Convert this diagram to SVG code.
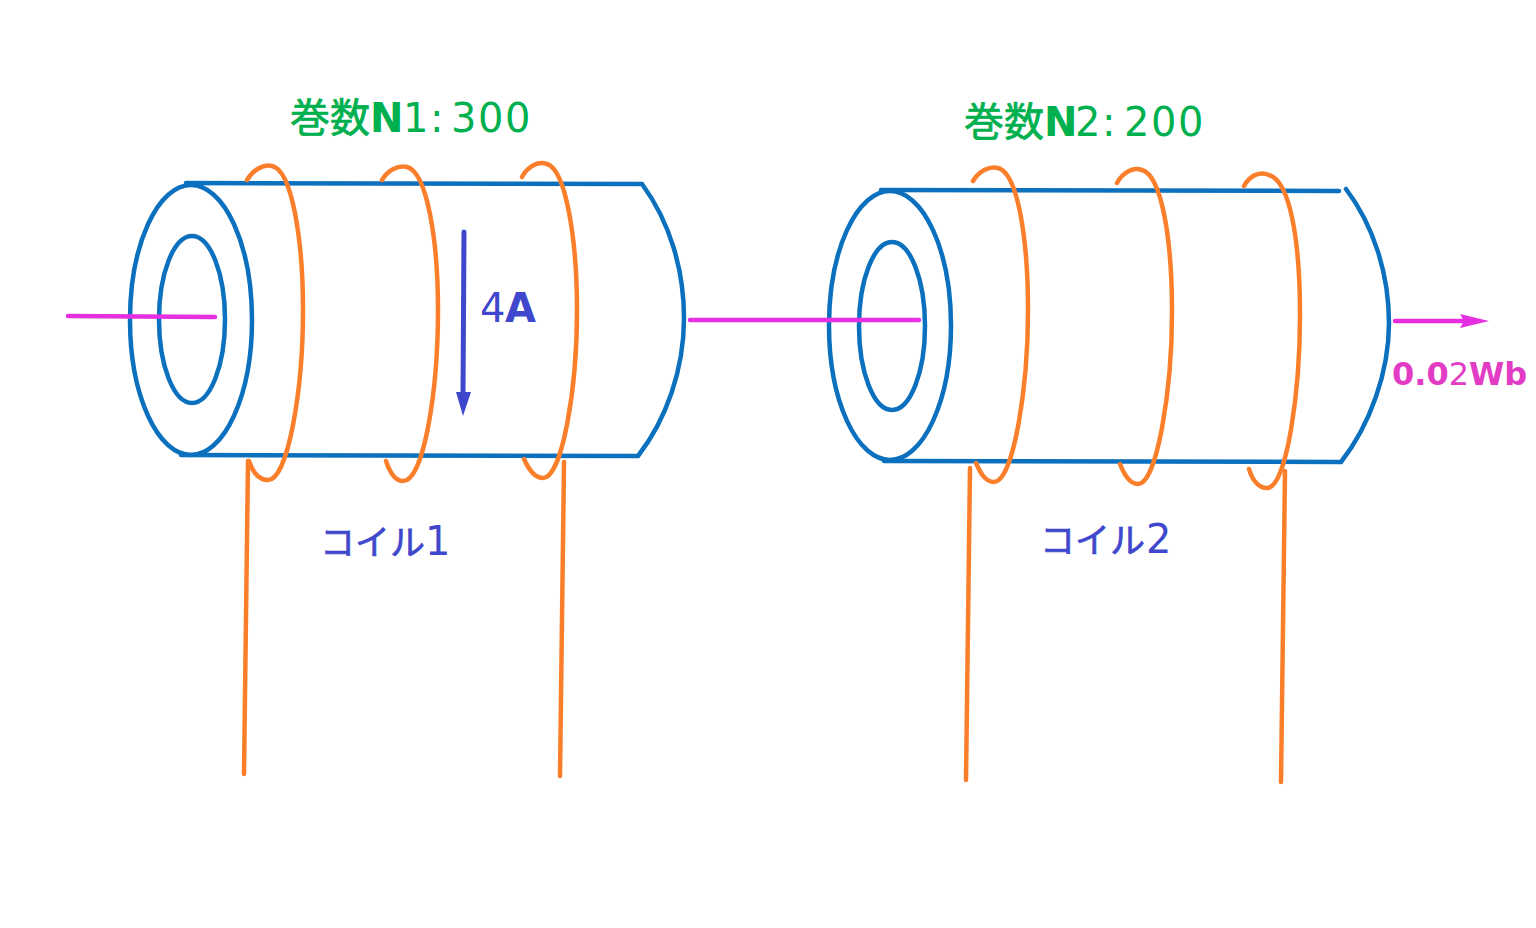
<svg xmlns="http://www.w3.org/2000/svg" width="1536" height="928" viewBox="0 0 1536 928">
<style>
.b{fill:none;stroke:#0b70bd;stroke-width:4.500;stroke-linecap:round}
.o{fill:none;stroke:#fb7f2b;stroke-width:4.500;stroke-linecap:round}
.m{fill:none;stroke:#e52fe0;stroke-width:4.500;stroke-linecap:round}
.i{fill:none;stroke:#3f48cc;stroke-width:5;stroke-linecap:round}
text{font-family:"DejaVu Sans","Noto Sans CJK JP",sans-serif}
.j{font-family:"Noto Sans CJK JP",sans-serif;stroke-width:.7}
.g{fill:#00b04f;font-size:40px}
.g .j{stroke:#00b04f}
.v{fill:#3f48cc;font-size:40px}
.v .j{stroke:#3f48cc;font-size:35px}
.p{fill:#e23bc4;font-size:32px}
.h{font-weight:700}
</style>
<rect width="1536" height="928" fill="#fff"/>
<g id="coil1">
<ellipse class="b" cx="191" cy="320" rx="61" ry="135"/>
<ellipse class="b" cx="192" cy="319.500" rx="33" ry="83.500"/>
<path class="b" d="M186 183L642 184C670 222 684 270 684 318C684 370 666 420 638 456L181 455"/>
<path class="o" d="M247 180C253 170 263 164 272 166C292 170 303 240 303 310C303 390 288 480 268 480C258 480 252 470 249 461"/>
<path class="o" d="M382 180C388 170 398 165 407 167C427 172 438 240 438 310C438 390 424 481 403 481C394 481 389 470 386 461"/>
<path class="o" d="M522 177C528 166 538 161 547 164C566 170 577 240 577 310C577 390 562 478 543 478C534 478 528 468 524 459"/>
<path class="o" d="M248 461L244 774M564 462L560 776"/>
</g>
<g id="coil2">
<ellipse class="b" cx="890" cy="325.500" rx="61" ry="134.500"/>
<ellipse class="b" cx="892" cy="326" rx="33" ry="84"/>
<path class="b" d="M881 190L1339 191M1346 189C1374 226 1389 275 1389 323C1389 372 1370 425 1341 462L884 461"/>
<path class="o" d="M973 181C979 171 989 166 998 168C1018 173 1028 240 1028 310C1028 390 1013 482 994 482C985 482 980 472 976 463"/>
<path class="o" d="M1117 183C1123 172 1133 167 1142 170C1162 176 1172 240 1172 312C1172 390 1157 484 1138 484C1129 484 1124 474 1120 464"/>
<path class="o" d="M1244 186C1250 175 1260 171 1269 175C1290 181 1300 240 1300 315C1300 390 1287 488 1267 488C1258 488 1252 479 1249 469"/>
<path class="o" d="M970 468L966 780M1285 471L1281 782"/>
</g>
<g id="connectors">
<path class="m" d="M68 316L215 317M690 320L919 320M1395 321L1465 321"/>
<path fill="#e52fe0" d="M1460 314L1489 321L1460 328L1464 321Z"/>
<path class="i" d="M464 232L463 395"/>
<path fill="#3f48cc" d="M456 392L471 392L463 416Z"/>
</g>
<g id="labels">
<text class="g" y="132"><tspan class="j" x="290" font-size="40">巻数</tspan><tspan class="h" x="370">N</tspan><tspan x="403">1</tspan><tspan x="430">:</tspan><tspan x="451" letter-spacing="1.500">300</tspan></text>
<text class="g" y="136"><tspan class="j" x="964" font-size="40">巻数</tspan><tspan class="h" x="1044">N</tspan><tspan x="1075">2</tspan><tspan x="1102">:</tspan><tspan x="1124" letter-spacing="1.500">200</tspan></text>
<text class="v" y="555"><tspan class="j" x="320">コイル</tspan><tspan x="425">1</tspan></text>
<text class="v" y="553"><tspan class="j" x="1040">コイル</tspan><tspan x="1146">2</tspan></text>
<text class="v" x="480" y="322" font-size="36">4<tspan class="h" x="505">A</tspan></text>
<text class="p" x="1392" y="385"><tspan class="h">0.0</tspan>2<tspan class="h">Wb</tspan></text>
</g>
</svg>
